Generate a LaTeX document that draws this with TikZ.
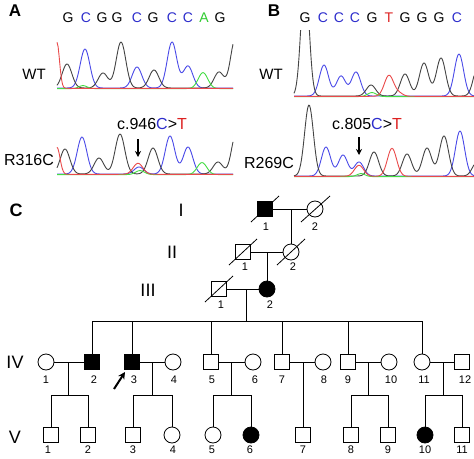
\documentclass[tikz,border=0pt]{standalone}
\usepackage{fontspec}
\setmainfont{Liberation Sans}
\usetikzlibrary{arrows.meta}
\definecolor{trblk}{HTML}{444444}
\definecolor{trblu}{HTML}{4A4AE8}
\definecolor{trred}{HTML}{EA4A4A}
\definecolor{trgrn}{HTML}{44DD44}
\definecolor{seqblu}{HTML}{2D2DCC}
\definecolor{seqred}{HTML}{DD2020}
\definecolor{seqgrn}{HTML}{30CC30}
\begin{document}
\begin{tikzpicture}[x=1pt,y=-1pt,
  declare function={pk(\x,\c,\h,\s)=\h*exp(-min(0.5*((\x-\c)/\s)*((\x-\c)/\s),20));},
  trace/.style={line width=0.9pt, line join=round},
  seq/.style={font=\fontsize{14}{14}\selectfont, inner sep=0pt},
  lbl/.style={font=\fontsize{15}{15}\selectfont, inner sep=0pt},
  mutlbl/.style={font=\fontsize{16}{16}\selectfont, inner sep=0pt},
  panel/.style={font=\bfseries\fontsize{17}{17}\selectfont, inner sep=0pt},
  gen/.style={font=\fontsize{18}{18}\selectfont, inner sep=0pt},
  num/.style={font=\fontsize{11}{11}\selectfont, inner sep=0pt},
  male/.style={draw, line width=0.8pt, rectangle, minimum size=15pt, inner sep=0pt},
  female/.style={draw, line width=0.8pt, circle, minimum size=16pt, inner sep=0pt},
  aff/.style={fill=black},
  ped/.style={line width=0.8pt},
  seqarrow/.style={line width=1.4pt, -{Stealth[length=6pt,width=6pt]}},
  proband/.style={line width=2pt, -{Stealth[length=7pt,width=7pt]}}
]
\useasboundingbox (0,0) rectangle (474,458);
\fill[white] (0,0) rectangle (474,458);

% ---------- Panel labels ----------
\node[panel] (pA) at (15,11) {A};
\node[panel] (pB) at (274,11) {B};
\node[panel, font=\bfseries\fontsize{18}{18}\selectfont] (pC) at (16,210) {C};

% ---------- Sequence A ----------
\node[seq] (a1) at (68,18) {G};
\node[seq, text=seqblu] (a2) at (86,18) {C};
\node[seq] (a3) at (102,18) {G};
\node[seq] (a4) at (117,18) {G};
\node[seq, text=seqblu] (a5) at (137,18) {C};
\node[seq] (a6) at (153,18) {G};
\node[seq, text=seqblu] (a7) at (172,18) {C};
\node[seq, text=seqblu] (a8) at (188,18) {C};
\node[seq, text=seqgrn] (a9) at (204,18) {A};
\node[seq] (a10) at (220,18) {G};

% ---------- Sequence B ----------
\node[seq] (b1) at (305,18) {G};
\node[seq, text=seqblu] (b2) at (323,18) {C};
\node[seq, text=seqblu] (b3) at (339,18) {C};
\node[seq, text=seqblu] (b4) at (355,18) {C};
\node[seq] (b5) at (372,18) {G};
\node[seq, text=seqred] (b6) at (389,18) {T};
\node[seq] (b7) at (405,18) {G};
\node[seq] (b8) at (422,18) {G};
\node[seq] (b9) at (439,18) {G};
\node[seq, text=seqblu] (b10) at (457,18) {C};

% ---------- Row labels ----------
\node[lbl] (wtA) at (34,74) {WT};
\node[mutlbl] (mA) at (29,160) {R316C};
\node[lbl] (wtB) at (271,74) {WT};
\node[mutlbl] (mB) at (269,163) {R269C};
\node[mutlbl] (cA) at (152,124) {c.946\textcolor{seqblu}{C}>\textcolor{seqred}{T}};
\node[mutlbl] (cB) at (367,124) {c.805\textcolor{seqblu}{C}>\textcolor{seqred}{T}};

% ---------- A WT trace ----------
\begin{scope}
\clip (56,30) rectangle (234,92);
\draw[trace, trblu] plot[domain=57:233, samples=180] (\x,{88-pk(\x,85,39,4.8)-pk(\x,137,21,4.8)-pk(\x,172,46,4.8)-pk(\x,188,22,4.8)});
\draw[trace, trblk] plot[domain=57:233, samples=180] (\x,{88-pk(\x,67,24,4.8)-pk(\x,103,15,4.8)-pk(\x,121,46,4.8)-pk(\x,154,18,4.8)-pk(\x,219,16,4.8)-pk(\x,235,48,4.5)});
\draw[trace, trgrn] plot[domain=57:233, samples=160] (\x,{88.6-pk(\x,83,3,4)-pk(\x,203,16,4.8)});
\draw[trace, trred] plot[domain=57:233, samples=160] (\x,{88.3-pk(\x,57,46,2.5)});
\end{scope}

% ---------- A mutant trace ----------
\begin{scope}
\clip (56,120) rectangle (234,178);
\draw[trace, trblu] plot[domain=57:233, samples=180] (\x,{174-pk(\x,82,37,4.8)-pk(\x,139,7,4.8)-pk(\x,170,38,4.8)-pk(\x,188,27,4.8)});
\draw[trace, trblk] plot[domain=57:233, samples=180] (\x,{174-pk(\x,65,25,4.8)-pk(\x,99,16,4.8)-pk(\x,120,40,4.8)-pk(\x,153,26,4.8)-pk(\x,218,12,4.8)-pk(\x,236,40,4.5)});
\draw[trace, trgrn] plot[domain=57:233, samples=160] (\x,{174.6-pk(\x,140,4,4.5)-pk(\x,202,12,4.8)});
\draw[trace, trred] plot[domain=57:233, samples=170] (\x,{174.3-pk(\x,57,27,3)-pk(\x,138,11,4.8)});
\end{scope}
\coordinate (arAt) at (138,139);
\coordinate (arAh) at (138,157);
\draw[seqarrow] (arAt) -- (arAh);

% ---------- B WT trace ----------
\begin{scope}
\clip (293,30) rectangle (474,100);
\draw[trace, trblu] plot[domain=294:474, samples=180] (\x,{96-pk(\x,324,31,4.6)-pk(\x,341,20,4.6)-pk(\x,356,24,4.6)-pk(\x,459,42,4.6)});
\draw[trace, trblk] plot[domain=294:474, samples=220] (\x,{96-pk(\x,305,120,4)-pk(\x,371,11,4.6)-pk(\x,405,22,4.6)-pk(\x,424,33,4.6)-pk(\x,441,38,4.6)-pk(\x,478,30,4.5)});
\draw[trace, trgrn] plot[domain=294:474, samples=160] (\x,{96.6-pk(\x,372,4,4.5)});
\draw[trace, trred] plot[domain=294:474, samples=160] (\x,{96.3-pk(\x,389,21,4.6)-pk(\x,399,3,4)});
\end{scope}

% ---------- B mutant trace ----------
\begin{scope}
\clip (293,100) rectangle (474,180);
\draw[trace, trblu] plot[domain=294:474, samples=180] (\x,{176-pk(\x,326,29,4.6)-pk(\x,343,21,4.6)-pk(\x,359,14,4.6)-pk(\x,460,45,4.6)});
\draw[trace, trblk] plot[domain=294:474, samples=220] (\x,{176-pk(\x,309,71,4.4)-pk(\x,374,24,4.6)-pk(\x,407,22,4.6)-pk(\x,427,28,4.6)-pk(\x,444,40,4.6)-pk(\x,477,14,4.5)});
\draw[trace, trgrn] plot[domain=294:474, samples=160] (\x,{176.6-pk(\x,361,3,4)});
\draw[trace, trred] plot[domain=294:474, samples=170] (\x,{176.3-pk(\x,359,11,4.6)-pk(\x,392,28,4.6)});
\end{scope}
\coordinate (arBt) at (359,137);
\coordinate (arBh) at (359,155);
\draw[seqarrow] (arBt) -- (arBh);

% ---------- Pedigree: generation labels ----------
\node[gen] (gI) at (181,210) {I};
\node[gen] (gII) at (172,252) {II};
\node[gen] (gIII) at (148,290) {III};
\node[gen] (gIV) at (15,362) {IV};
\node[gen] (gV) at (15,437) {V};

% ---------- Generation I ----------
\node[male, aff] (I1) at (265,209) {};
\node[female] (I2) at (315,209) {};
\draw[ped] (I1.center) ++(-14,13) -- ++(28,-26);
\draw[ped] (I2.center) ++(-14,13) -- ++(29,-26);
\node[num] (nI1) at (266,227) {1};
\node[num] (nI2) at (315,227) {2};
\draw[ped] (I1) -- (I2);
\coordinate (m1) at (291,209);

% ---------- Generation II ----------
\node[male] (II1) at (243,252) {};
\node[female] (II2) at (291,252) {};
\draw[ped] (II1.center) ++(-14,13) -- ++(28,-26);
\draw[ped] (II2.center) ++(-14,13) -- ++(28,-26);
\node[num] (nII1) at (245,267) {1};
\node[num] (nII2) at (293,267) {2};
\draw[ped] (m1) -- (II2);
\draw[ped] (II1) -- (II2);
\coordinate (m2) at (267,252);

% ---------- Generation III ----------
\node[male] (III1) at (219,289) {};
\node[female, aff] (III2) at (267,289) {};
\draw[ped] (III1.center) ++(-14,13) -- ++(28,-26);
\node[num] (nIII1) at (221,305) {1};
\node[num] (nIII2) at (270,305) {2};
\draw[ped] (m2) -- (III2);
\draw[ped] (III1) -- (III2);
\coordinate (m3) at (246,289);
\coordinate (s3) at (246,321);
\draw[ped] (m3) -- (s3);

% ---------- Generation IV ----------
\node[female] (IV1) at (46,362) {};
\node[male, aff] (IV2) at (92,362) {};
\node[male, aff] (IV3) at (132,362) {};
\node[female] (IV4) at (173,362) {};
\node[male] (IV5) at (211,362) {};
\node[female] (IV6) at (253,362) {};
\node[male] (IV7) at (282,362) {};
\node[female] (IV8) at (323,362) {};
\node[male] (IV9) at (348,362) {};
\node[female] (IV10) at (389,362) {};
\node[female] (IV11) at (422,362) {};
\node[male] (IV12) at (462,362) {};
\node[num] (nIV1) at (46,380) {1};
\node[num] (nIV2) at (94,380) {2};
\node[num] (nIV3) at (134,380) {3};
\node[num] (nIV4) at (174,380) {4};
\node[num] (nIV5) at (212,380) {5};
\node[num] (nIV6) at (255,380) {6};
\node[num] (nIV7) at (282,380) {7};
\node[num] (nIV8) at (324,380) {8};
\node[num] (nIV9) at (348,380) {9};
\node[num] (nIV10) at (391,380) {10};
\node[num] (nIV11) at (424,380) {11};
\node[num] (nIV12) at (465,380) {12};

\draw[ped] (IV2 |- s3) -- (IV11 |- s3);
\foreach \n in {IV2,IV3,IV5,IV7,IV9,IV11} \draw[ped] (\n |- s3) -- (\n);

\draw[ped] (IV1) -- (IV2);
\draw[ped] (IV3) -- (IV4);
\draw[ped] (IV5) -- (IV6);
\draw[ped] (IV7) -- (IV8);
\draw[ped] (IV9) -- (IV10);
\draw[ped] (IV11) -- (IV12);

\coordinate (prT) at (114,389);
\coordinate (prH) at (125,372);
\draw[proband] (prT) -- (prH);

% ---------- Generation V ----------
\node[male] (V1) at (51,435) {};
\node[male] (V2) at (88,435) {};
\node[male] (V3) at (133,435) {};
\node[female] (V4) at (172,435) {};
\node[female] (V5) at (213,435) {};
\node[female, aff] (V6) at (251,435) {};
\node[male] (V7) at (303,435) {};
\node[male] (V8) at (351,435) {};
\node[male] (V9) at (388,435) {};
\node[female, aff] (V10) at (425,435) {};
\node[male] (V11) at (462,435) {};
\node[num] (nV1) at (48,450) {1};
\node[num] (nV2) at (88,450) {2};
\node[num] (nV3) at (133,450) {3};
\node[num] (nV4) at (173,450) {4};
\node[num] (nV5) at (212,450) {5};
\node[num] (nV6) at (250,450) {6};
\node[num] (nV7) at (303,450) {7};
\node[num] (nV8) at (351,450) {8};
\node[num] (nV9) at (388,450) {9};
\node[num] (nV10) at (425,450) {10};
\node[num] (nV11) at (462,450) {11};

% family IV1-IV2
\coordinate (m41) at (68,362);
\coordinate (c41) at (68,395);
\draw[ped] (m41) -- (c41);
\draw[ped] (V1 |- c41) -- (V2 |- c41);
\draw[ped] (V1 |- c41) -- (V1);
\draw[ped] (V2 |- c41) -- (V2);
% family IV3-IV4
\coordinate (m42) at (152,362);
\coordinate (c42) at (152,395);
\draw[ped] (m42) -- (c42);
\draw[ped] (V3 |- c42) -- (V4 |- c42);
\draw[ped] (V3 |- c42) -- (V3);
\draw[ped] (V4 |- c42) -- (V4);
% family IV5-IV6
\coordinate (m43) at (231,362);
\coordinate (c43) at (231,395);
\draw[ped] (m43) -- (c43);
\draw[ped] (V5 |- c43) -- (V6 |- c43);
\draw[ped] (V5 |- c43) -- (V5);
\draw[ped] (V6 |- c43) -- (V6);
% family IV7-IV8
\coordinate (m44) at (303,362);
\draw[ped] (m44) -- (V7);
% family IV9-IV10
\coordinate (m45) at (368,362);
\coordinate (c45) at (368,395);
\draw[ped] (m45) -- (c45);
\draw[ped] (V8 |- c45) -- (V9 |- c45);
\draw[ped] (V8 |- c45) -- (V8);
\draw[ped] (V9 |- c45) -- (V9);
% family IV11-IV12
\coordinate (m46) at (443,362);
\coordinate (c46) at (443,395);
\draw[ped] (m46) -- (c46);
\draw[ped] (V10 |- c46) -- (V11 |- c46);
\draw[ped] (V10 |- c46) -- (V10);
\draw[ped] (V11 |- c46) -- (V11);
\end{tikzpicture}
\end{document}
